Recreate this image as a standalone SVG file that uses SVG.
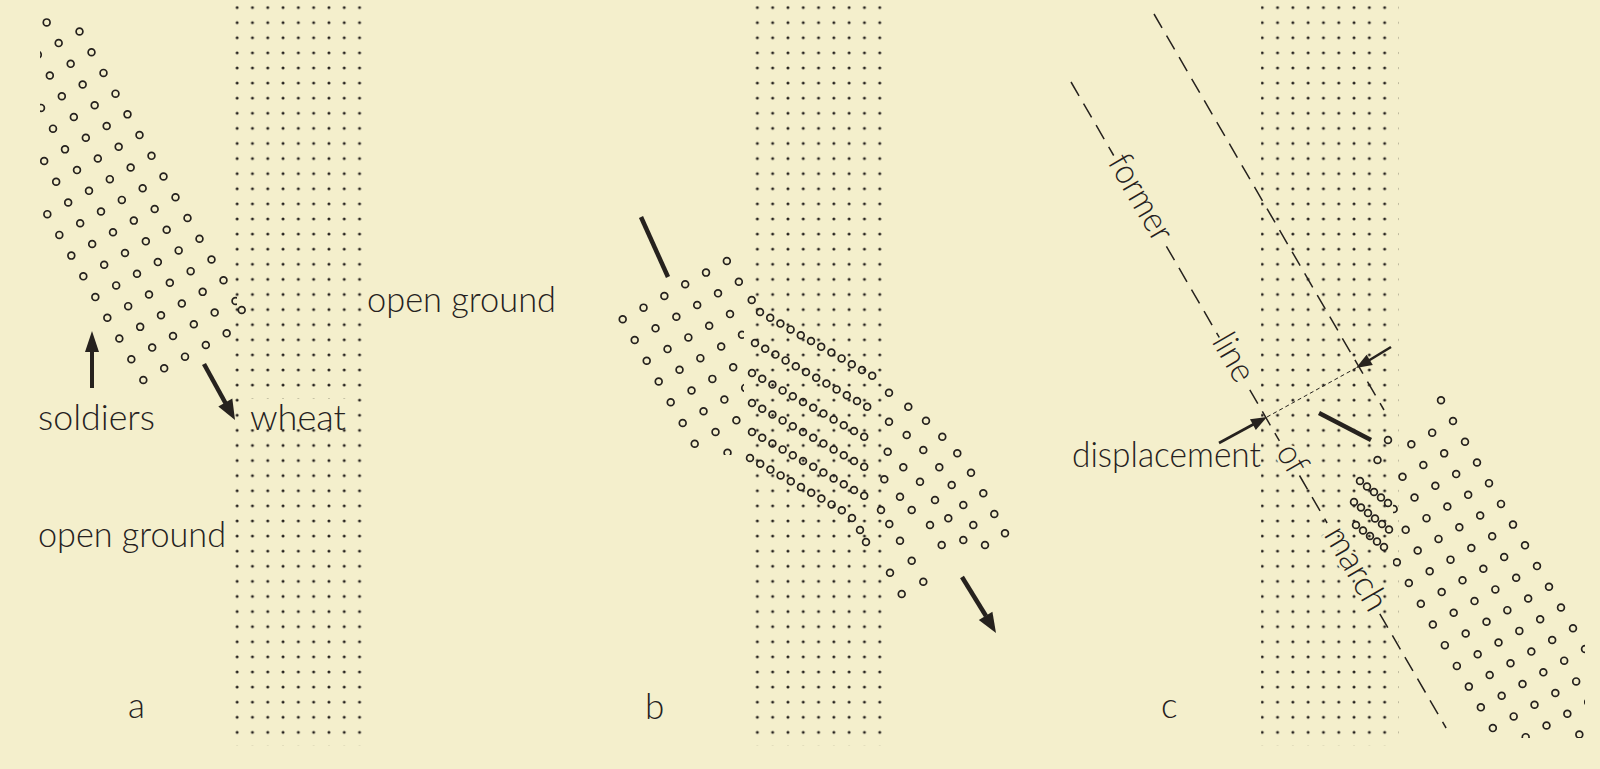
<svg xmlns="http://www.w3.org/2000/svg" xmlns:xlink="http://www.w3.org/1999/xlink" width="1600" height="769" viewBox="0 0 1600 769">
<style>
.bg{fill:#f4efcc}
.s{fill:none;stroke:#26221e;stroke-width:1.7}
.t{font-family:Lato,"Liberation Sans",Arial,sans-serif;font-weight:300;font-size:35px;fill:#26221e}
.rt{font-family:Lato,"Liberation Sans",Arial,sans-serif;font-weight:300;font-size:35px;fill:#26221e;paint-order:stroke;stroke:#f4efcc;stroke-width:5px}
.heavy{stroke:#26221e;stroke-width:4.5;fill:none}
.ah{fill:#26221e}
.dash{stroke:#26221e;stroke-width:1.5;fill:none;stroke-dasharray:16 9}
.thin{stroke:#26221e;stroke-width:1;fill:none;stroke-dasharray:4 3}
</style>
<defs>
<pattern id="wheat" patternUnits="userSpaceOnUse" width="15.3" height="15.1" x="0" y="0">
<circle cx="7.65" cy="7.55" r="1.5" fill="#26221e"/>
</pattern>
<circle id="s" r="3.4" class="s"/>
<g id="col">
<use href="#s" x="-240" y="-414.6"/><use href="#s" x="-228" y="-393.87"/><use href="#s" x="-216" y="-373.14"/><use href="#s" x="-204" y="-352.41"/><use href="#s" x="-192" y="-331.68"/><use href="#s" x="-180" y="-310.95"/><use href="#s" x="-168" y="-290.22"/><use href="#s" x="-156" y="-269.49"/><use href="#s" x="-144" y="-248.76"/><use href="#s" x="-132" y="-228.03"/><use href="#s" x="-120" y="-207.3"/><use href="#s" x="-108" y="-186.57"/><use href="#s" x="-96" y="-165.84"/><use href="#s" x="-84" y="-145.11"/><use href="#s" x="-72" y="-124.38"/><use href="#s" x="-60" y="-103.65"/><use href="#s" x="-48" y="-82.92"/><use href="#s" x="-36" y="-62.19"/><use href="#s" x="-24" y="-41.46"/><use href="#s" x="-12" y="-20.73"/><use href="#s" x="0" y="0"/><use href="#s" x="12" y="20.73"/><use href="#s" x="24" y="41.46"/><use href="#s" x="36" y="62.19"/><use href="#s" x="48" y="82.92"/><use href="#s" x="60" y="103.65"/><use href="#s" x="72" y="124.38"/><use href="#s" x="84" y="145.11"/><use href="#s" x="96" y="165.84"/><use href="#s" x="108" y="186.57"/><use href="#s" x="120" y="207.3"/><use href="#s" x="132" y="228.03"/><use href="#s" x="144" y="248.76"/><use href="#s" x="156" y="269.49"/><use href="#s" x="168" y="290.22"/><use href="#s" x="180" y="310.95"/><use href="#s" x="192" y="331.68"/><use href="#s" x="204" y="352.41"/><use href="#s" x="216" y="373.14"/><use href="#s" x="228" y="393.87"/><use href="#s" x="240" y="414.6"/>
</g>
<clipPath id="cAx"><rect x="40" y="0" width="197" height="769"/></clipPath>
<clipPath id="cAp"><polygon points="138.92,396.2 243.07,337.87 231.07,317.13 251.9,305.44 83.9,15.22 63.07,26.91 51.07,6.18 -53.1,64.5"/></clipPath>
<clipPath id="cBl"><polygon points="606.3,314.8 744,237.7 744,455 687.4,455"/></clipPath>
<clipPath id="cCx"><rect x="1393" y="0" width="192" height="738"/></clipPath>
<clipPath id="cCp"><polygon points="1445.4,384 1424.6,395.7 1436.6,416.4 1394.9,439.8 1406.9,460.5 1344.4,495.5 1590.4,920.5 1715.4,850.5"/></clipPath>
</defs>
<rect class="bg" x="0" y="0" width="1600" height="769"/>

<g id="wheat-strips">
<rect x="229.35" y="5.75" width="137.7" height="739.9" fill="url(#wheat)"/>
<rect x="745.35" y="5.75" width="137.7" height="739.9" fill="url(#wheat)"/>
<rect x="1260.95" y="5.75" width="137.7" height="739.9" fill="url(#wheat)"/>
</g>

<g id="panel-a">
<g id="soldiers-a" clip-path="url(#cAx)"><g clip-path="url(#cAp)">
<use href="#col" x="143.33" y="380"/><use href="#col" x="164.17" y="368.33"/><use href="#col" x="185" y="356.67"/><use href="#col" x="205.83" y="345"/><use href="#col" x="226.67" y="333.33"/><use href="#col" x="247.5" y="321.67"/>
</g></g>
<use href="#s" x="241.7" y="310"/>
<g id="arrow-soldiers"><line x1="92" y1="388" x2="92" y2="348" class="heavy" style="stroke-width:4"/><polygon class="ah" points="92,331 85,352 99,352"/></g>
<g id="arrow-wheat"><line x1="204" y1="364" x2="226" y2="404" class="heavy"/><polygon class="ah" points="235,420 232.3,398.6 218.3,406.4"/></g>
<text class="t" x="38" y="430" textLength="117" lengthAdjust="spacingAndGlyphs">soldiers</text>
<rect class="bg" x="245" y="399" width="107" height="30"/>
<text class="t" x="250" y="430" textLength="96" lengthAdjust="spacingAndGlyphs">wheat</text>
<text class="t" x="38" y="547" textLength="188" lengthAdjust="spacingAndGlyphs">open ground</text>
<text class="t" x="367" y="312" textLength="189" lengthAdjust="spacingAndGlyphs">open ground</text>
<text class="t" x="128" y="718">a</text>
</g>

<g id="panel-b">
<g id="soldiers-b-left" clip-path="url(#cBl)">
<use href="#col" x="622.7" y="319.3"/><use href="#col" x="643.53" y="307.63"/><use href="#col" x="664.36" y="295.96"/><use href="#col" x="685.19" y="284.29"/><use href="#col" x="706.02" y="272.62"/><use href="#col" x="726.85" y="260.95"/>
</g>
<use href="#s" x="751.7" y="300"/>
<g id="soldiers-b-wheat">
<use href="#s" x="760" y="312"/><use href="#s" x="770.2" y="317.8"/><use href="#s" x="780.4" y="323.6"/><use href="#s" x="790.6" y="329.4"/><use href="#s" x="800.8" y="335.2"/><use href="#s" x="811" y="341"/><use href="#s" x="821.2" y="346.8"/><use href="#s" x="831.4" y="352.6"/><use href="#s" x="841.6" y="358.4"/><use href="#s" x="851.8" y="364.2"/><use href="#s" x="862" y="370"/><use href="#s" x="872.2" y="375.8"/>
<use href="#s" x="755" y="343"/><use href="#s" x="765.2" y="348.8"/><use href="#s" x="775.4" y="354.6"/><use href="#s" x="785.6" y="360.4"/><use href="#s" x="795.8" y="366.2"/><use href="#s" x="806" y="372"/><use href="#s" x="816.2" y="377.8"/><use href="#s" x="826.4" y="383.6"/><use href="#s" x="836.6" y="389.4"/><use href="#s" x="846.8" y="395.2"/><use href="#s" x="857" y="401"/><use href="#s" x="867.2" y="406.8"/>
<use href="#s" x="752" y="373"/><use href="#s" x="762.2" y="378.8"/><use href="#s" x="772.4" y="384.6"/><use href="#s" x="782.6" y="390.4"/><use href="#s" x="792.8" y="396.2"/><use href="#s" x="803" y="402"/><use href="#s" x="813.2" y="407.8"/><use href="#s" x="823.4" y="413.6"/><use href="#s" x="833.6" y="419.4"/><use href="#s" x="843.8" y="425.2"/><use href="#s" x="854" y="431"/><use href="#s" x="864.2" y="436.8"/>
<use href="#s" x="752" y="403"/><use href="#s" x="762.2" y="408.8"/><use href="#s" x="772.4" y="414.6"/><use href="#s" x="782.6" y="420.4"/><use href="#s" x="792.8" y="426.2"/><use href="#s" x="803" y="432"/><use href="#s" x="813.2" y="437.8"/><use href="#s" x="823.4" y="443.6"/><use href="#s" x="833.6" y="449.4"/><use href="#s" x="843.8" y="455.2"/><use href="#s" x="854" y="461"/><use href="#s" x="864.2" y="466.8"/>
<use href="#s" x="752" y="432"/><use href="#s" x="762.2" y="437.8"/><use href="#s" x="772.4" y="443.6"/><use href="#s" x="782.6" y="449.4"/><use href="#s" x="792.8" y="455.2"/><use href="#s" x="803" y="461"/><use href="#s" x="813.2" y="466.8"/><use href="#s" x="823.4" y="472.6"/><use href="#s" x="833.6" y="478.4"/><use href="#s" x="843.8" y="484.2"/><use href="#s" x="854" y="490"/><use href="#s" x="864.2" y="495.8"/>
<use href="#s" x="750" y="458"/><use href="#s" x="760.2" y="463.8"/><use href="#s" x="770.4" y="469.6"/><use href="#s" x="780.6" y="475.4"/><use href="#s" x="790.8" y="481.2"/><use href="#s" x="801" y="487"/><use href="#s" x="811.2" y="492.8"/><use href="#s" x="821.4" y="498.6"/><use href="#s" x="831.6" y="504.4"/><use href="#s" x="841.8" y="510.2"/><use href="#s" x="852" y="518"/><use href="#s" x="860" y="530"/><use href="#s" x="866" y="542"/>
</g>
<g id="soldiers-b-right">
<use href="#s" x="889" y="392.7"/><use href="#s" x="908.3" y="406.7"/><use href="#s" x="926" y="420.7"/><use href="#s" x="942.3" y="436.7"/><use href="#s" x="957.3" y="453.3"/><use href="#s" x="971" y="472.7"/><use href="#s" x="983.3" y="493.3"/><use href="#s" x="994.3" y="514"/><use href="#s" x="1005" y="533.3"/>
<use href="#s" x="889" y="421.7"/><use href="#s" x="906.7" y="435"/><use href="#s" x="923.3" y="450"/><use href="#s" x="939.3" y="467.3"/><use href="#s" x="951.7" y="485"/><use href="#s" x="963.3" y="505"/><use href="#s" x="973.3" y="525"/><use href="#s" x="985" y="545"/>
<use href="#s" x="887.7" y="451.7"/><use href="#s" x="903.3" y="467.3"/><use href="#s" x="920" y="481.7"/><use href="#s" x="935" y="500"/><use href="#s" x="948.3" y="518.3"/><use href="#s" x="963.3" y="540"/>
<use href="#s" x="884.3" y="479.3"/><use href="#s" x="900" y="496.7"/><use href="#s" x="911.7" y="510"/><use href="#s" x="930" y="525"/><use href="#s" x="941.7" y="545"/>
<use href="#s" x="881" y="510"/><use href="#s" x="889.3" y="524"/><use href="#s" x="900" y="540.7"/><use href="#s" x="911.7" y="560.7"/><use href="#s" x="923.3" y="581.7"/>
<use href="#s" x="890" y="572.7"/><use href="#s" x="901.7" y="594"/>
</g>
<line x1="641" y1="217" x2="668" y2="277" class="heavy"/>
<g id="arrow-b"><line x1="962" y1="577" x2="986" y2="616" class="heavy"/><polygon class="ah" points="996,633 992.4,611.7 978.8,620.1"/></g>
<text class="t" x="645" y="719">b</text>
</g>

<g id="panel-c">
<g id="connectors">
<line class="dash" x1="1154" y1="14" x2="1384" y2="410"/>
<line class="dash" x1="1071" y1="82" x2="1113.7" y2="155.5"/>
<line class="dash" x1="1166.4" y1="246.3" x2="1220.6" y2="339.7"/>
<line class="dash" x1="1249.8" y1="389.8" x2="1279.4" y2="440.9"/>
<line class="dash" x1="1299.5" y1="475.5" x2="1327.1" y2="523"/>
<line class="dash" x1="1379.8" y1="613.8" x2="1446.1" y2="728"/>
<line class="thin" x1="1267" y1="417" x2="1356" y2="368"/>
<g id="arrow-lower"><line x1="1219" y1="443" x2="1254" y2="424" class="heavy" style="stroke-width:2.6"/><polygon class="ah" points="1267,417 1255.8,429.9 1250,419.3"/></g>
<g id="arrow-upper"><line x1="1391" y1="347" x2="1368" y2="361" class="heavy" style="stroke-width:2.6"/><polygon class="ah" points="1356,368 1372.8,365 1366.6,354.7"/></g>
</g>
<text class="rt" transform="translate(1138.8,198.7) rotate(59.86)" text-anchor="middle" y="9" textLength="95" lengthAdjust="spacingAndGlyphs">former</text>
<text class="rt" transform="translate(1231.7,358.7) rotate(59.86)" text-anchor="middle" y="9" textLength="50" lengthAdjust="spacingAndGlyphs">line</text>
<text class="rt" transform="translate(1290.4,459.9) rotate(59.86)" text-anchor="middle" y="9" textLength="28" lengthAdjust="spacingAndGlyphs">of</text>
<text class="rt" transform="translate(1354.2,569.7) rotate(59.86)" text-anchor="middle" y="9" textLength="92" lengthAdjust="spacingAndGlyphs">march</text>
<text class="t" x="1072" y="467" textLength="189" lengthAdjust="spacingAndGlyphs">displacement</text>
<text class="t" x="1161" y="718">c</text>
<g id="soldiers-c-right" clip-path="url(#cCx)"><g clip-path="url(#cCp)">
<use href="#col" x="1360.85" y="500.05"/><use href="#col" x="1381.68" y="488.38"/><use href="#col" x="1402.51" y="476.71"/><use href="#col" x="1423.34" y="465.04"/><use href="#col" x="1444.17" y="453.37"/><use href="#col" x="1465" y="441.7"/>
</g></g>
<g id="soldiers-c-wheat">
<use href="#s" x="1388" y="440"/><use href="#s" x="1377.5" y="460"/>
<use href="#s" x="1360" y="481"/><use href="#s" x="1367" y="486.5"/><use href="#s" x="1374" y="492"/><use href="#s" x="1381" y="497.5"/><use href="#s" x="1388" y="503"/>
<use href="#s" x="1354" y="502"/><use href="#s" x="1361" y="507.5"/><use href="#s" x="1368" y="513"/><use href="#s" x="1375" y="518.5"/><use href="#s" x="1382" y="524"/><use href="#s" x="1389" y="529.5"/>
<use href="#s" x="1356" y="525"/><use href="#s" x="1363" y="530.5"/><use href="#s" x="1370" y="536"/><use href="#s" x="1377" y="541.5"/><use href="#s" x="1384" y="547"/>
</g>
<line x1="1319" y1="413" x2="1371" y2="440" class="heavy"/>
</g>
</svg>
